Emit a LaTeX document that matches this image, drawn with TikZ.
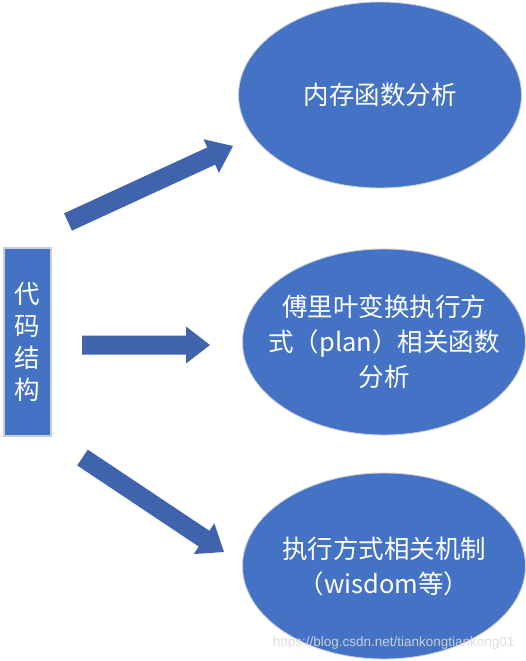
\documentclass[tikz,border=0pt]{standalone}
\usepackage{fontspec}
\setmainfont{Noto Sans CJK SC}
\newfontfamily\wmfont{Liberation Sans}
\usetikzlibrary{shapes.geometric,calc}
\definecolor{boxblue}{HTML}{4472C4}
\definecolor{arrowblue}{HTML}{3F64AD}
\definecolor{rimgray}{HTML}{C9CED8}
\tikzset{
  bubble/.style={ellipse, fill=boxblue, draw=rimgray, line width=0.9pt,
    minimum width=283pt, minimum height=186pt, inner sep=0pt},
  bubbletext/.style={text=white, align=center, font=\fontsize{25.5pt}{35pt}\selectfont, inner sep=0pt},
  sidebox/.style={rectangle, fill=boxblue, draw=rimgray, line width=1.4pt,
    minimum width=47pt, minimum height=188pt, inner sep=0pt,
    text=white, align=center, font=\fontsize{25.5pt}{32pt}\selectfont},
  arrowbody/.style={fill=arrowblue}
}
\newcommand\mkblockarrow[2]{%
  \fill[arrowbody] ($(#1)!9.5pt!90:(#2)$)
    -- ($($(#2)!24pt!(#1)$)!9.5pt!-90:(#1)$)
    -- ($($(#2)!24pt!(#1)$)!18.5pt!-90:(#1)$)
    -- (#2)
    -- ($($(#2)!24pt!(#1)$)!18.5pt!90:(#1)$)
    -- ($($(#2)!24pt!(#1)$)!9.5pt!90:(#1)$)
    -- ($(#1)!9.5pt!-90:(#2)$)
    -- cycle;}
\begin{document}
\begin{tikzpicture}[x=1pt,y=-1pt]
\useasboundingbox (0,0) rectangle (526,661);
\node[sidebox] (code) at (27.5,342) {代\\码\\结\\构};
\node[bubble] (mem) at (380,95) {};
\node[bubbletext] (memtext) at (mem.center) {内存函数分析};
\node[bubble] (plan) at (384,342) {};
\node[bubbletext] (plantext) at (plan.center) {傅里叶变换执行方\\式（plan）相关函数\\分析};
\node[bubble] (exec) at (384,566) {};
\node[bubbletext] (exectext) at (exec.center) {执行方式相关机制\\（wisdom等）};
\coordinate (t1) at (68,222);  \coordinate (h1) at (233,146);
\coordinate (t2) at (82,345);  \coordinate (h2) at (210,345);
\coordinate (t3) at (82.5,457.5); \coordinate (h3) at (224,552);
\mkblockarrow{t1}{h1}
\mkblockarrow{t2}{h2}
\mkblockarrow{t3}{h3}
\node[text=white!70!gray, opacity=0.9, font=\wmfont\fontsize{13.5pt}{15pt}\selectfont, anchor=east] (wm) at (518,643) {https://blog.csdn.net/tiankongtiankong01};
\end{tikzpicture}
\end{document}
